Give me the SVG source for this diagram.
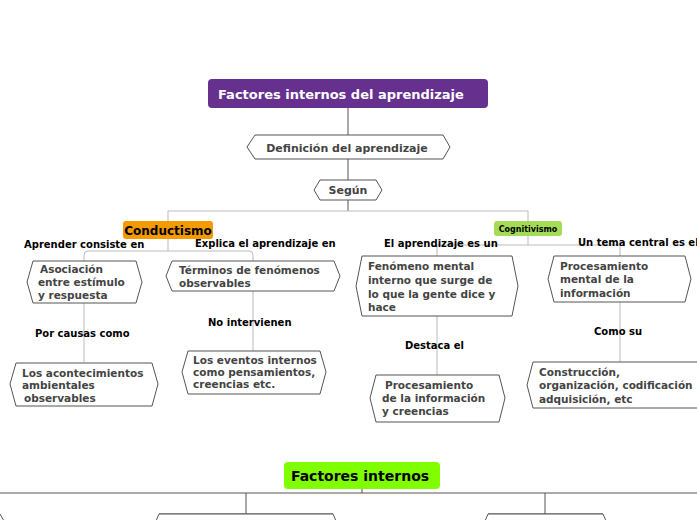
<svg xmlns="http://www.w3.org/2000/svg" width="697" height="520" viewBox="0 0 697 520">
<style>
.hex{fill:#fff;stroke:#555;stroke-width:1}
.nt{font-family:"DejaVu Sans",Verdana,sans-serif;font-weight:bold;font-size:10.5px;fill:#444}
.lb{font-family:"DejaVu Sans",Verdana,sans-serif;font-weight:bold;font-size:10px;fill:#000}
.ln{fill:none;stroke:#bbb;stroke-width:1}
.dk{fill:none;stroke:#555;stroke-width:1}
</style>
<rect width="697" height="520" fill="#fff"/>
<g id="connectors">
<path class="dk" d="M348 108V135M348 159V180M348 200V211"/>
<path class="ln" d="M168 221V211H528V221M168 239V251M88 251H249Q253 251 253 255V261M88 251Q84 251 84 255V261M84 303V362M253 291V351"/>
<path class="ln" d="M528 236V245M437 245H620V256M437 245V256M437 316V375M620 302V362"/>
<path class="dk" d="M0 493H697M362 489V493M246 493V514M159 514H333M545 493V514M488 514H603"/>
</g>
<g id="n-title"><rect x="208" y="79" width="280" height="29" rx="4" fill="#66308f"/><text x="218" y="99" font-family="DejaVu Sans,sans-serif" font-weight="bold" font-size="13" fill="#fff">Factores internos del aprendizaje</text></g>
<g id="n-def"><polygon class="hex" points="255,135 443,135 450,147 443,159 255,159 247,147"/><text x="347" y="152" text-anchor="middle" font-family="DejaVu Sans,sans-serif" font-weight="bold" font-size="11" fill="#444">Definición del aprendizaje</text></g>
<g id="n-segun"><polygon class="hex" points="320,180 376,180 382,190 376,200 320,200 314,190"/><text x="348" y="194" text-anchor="middle" font-family="DejaVu Sans,sans-serif" font-weight="bold" font-size="11" fill="#444">Según</text></g>
<g id="n-cond"><rect x="123" y="221" width="90" height="18" rx="3" fill="#f59b00"/><text x="168" y="235" text-anchor="middle" font-family="DejaVu Sans,sans-serif" font-weight="bold" font-size="12" fill="#000">Conductismo</text></g>
<g id="n-cog"><rect x="494" y="221" width="68" height="15" rx="3" fill="#a5dc55"/><text x="528" y="232" text-anchor="middle" font-family="DejaVu Sans,sans-serif" font-weight="bold" font-size="8" fill="#000">Cognitivismo</text></g>
<g id="labels">
<text class="lb" x="24" y="248">Aprender consiste en</text>
<text class="lb" x="195" y="247">Explica el aprendizaje en</text>
<text class="lb" x="35" y="337">Por causas como</text>
<text class="lb" x="208" y="326">No intervienen</text>
<text class="lb" x="384" y="247">El aprendizaje es un</text>
<text class="lb" x="578" y="246">Un tema central es el</text>
<text class="lb" x="405" y="349">Destaca  el</text>
<text class="lb" x="594" y="335">Como su</text>
</g>
<g id="n-asoc"><polygon class="hex" points="33,261 136,261 142,282 136,303 33,303 27,282"/><text class="nt"><tspan x="40" y="273">Asociación</tspan><tspan x="38" y="286">entre estímulo</tspan><tspan x="38" y="299">y  respuesta</tspan></text></g>
<g id="n-acont"><polygon class="hex" points="16,363 152,363 158,384 152,406 16,406 10,384"/><text class="nt"><tspan x="22" y="377">Los acontecimientos</tspan><tspan x="22" y="389">ambientales</tspan><tspan x="24" y="402">observables</tspan></text></g>
<g id="n-term"><polygon class="hex" points="172,261 334,261 340,276 334,291 172,291 166,276"/><text class="nt"><tspan x="179" y="274">Términos de fenómenos</tspan><tspan x="179" y="287">observables</tspan></text></g>
<g id="n-event"><polygon class="hex" points="188,351 320,351 326,372 320,394 188,394 182,372"/><text class="nt"><tspan x="193" y="364">Los eventos internos</tspan><tspan x="193" y="376">como pensamientos,</tspan><tspan x="193" y="388">creencias etc.</tspan></text></g>
<g id="n-fen"><polygon class="hex" points="362,256 512,256 518,286 512,316 362,316 356,286"/><text class="nt"><tspan x="368" y="270">Fenómeno  mental</tspan><tspan x="368" y="284">interno que surge de</tspan><tspan x="368" y="298">lo que la gente dice y</tspan><tspan x="368" y="311">hace</tspan></text></g>
<g id="n-proc1"><polygon class="hex" points="376,375 499,375 505,398 499,422 376,422 370,398"/><text class="nt"><tspan x="385" y="389">Procesamiento</tspan><tspan x="382" y="402">de la información</tspan><tspan x="382" y="415">y creencias</tspan></text></g>
<g id="n-proc2"><polygon class="hex" points="554,256 685,256 691,279 685,302 554,302 548,279"/><text class="nt"><tspan x="560" y="270">Procesamiento</tspan><tspan x="560" y="283">mental de la</tspan><tspan x="560" y="297">información</tspan></text></g>
<g id="n-constr"><polygon class="hex" points="533,362 710,362 716,385 710,408 533,408 527,385"/><text class="nt"><tspan x="539" y="376">Construcción,</tspan><tspan x="539" y="389">organización, codificación</tspan><tspan x="539" y="403">adquisición, etc</tspan></text></g>
<g id="n-fi"><rect x="284" y="462" width="156" height="27" rx="4" fill="#80ff00"/><text x="360" y="481" text-anchor="middle" font-family="DejaVu Sans,sans-serif" font-weight="bold" font-size="14" fill="#000">Factores internos</text></g>
<g id="n-bottom">
<polygon class="hex" points="159,514 333,514 336,521 156,521"/>
<polygon class="hex" points="488,514 603,514 606,521 485,521"/>
<path class="dk" d="M0 514L4 521"/>
</g>
</svg>
